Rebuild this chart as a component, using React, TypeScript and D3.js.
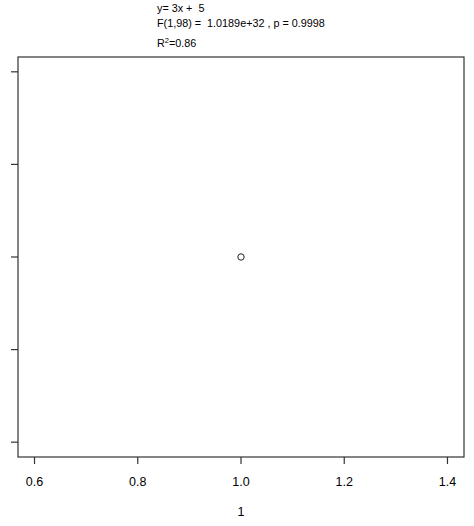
import React from "react";
import * as d3 from "d3";

const xs = [1];
const ys = [1];
const xTicks = [0.6, 0.8, 1.0, 1.2, 1.4];
const yTicks = [0.6, 0.8, 1.0, 1.2, 1.4];
const eqLines = ["y= 3x +  5", "F(1,98) =  1.0189e+32 , p = 0.9998"];
const r2Label = "0.86";
const xLabel = "1";

export default function App() {
  const W = 474, H = 526;
  const left = 18, right = 464, top = 57, bottom = 457;
  const x = d3.scaleLinear().domain([0.568, 1.432]).range([left, right]);
  const y = d3.scaleLinear().domain([0.568, 1.432]).range([bottom, top]);
  const font = "Liberation Sans, Arial, sans-serif";
  const axisColor = "#333";
  return (
    <svg width={W} height={H} style={{ position: "absolute", left: 0, top: 0, background: "#fff" }}>
      <g fontFamily={font} fill="#000" style={{ whiteSpace: "pre" }}>
        <text x={157} y={12} fontSize={10.8} xmlSpace="preserve">{eqLines[0]}</text>
        <text x={157} y={27} fontSize={10.8} xmlSpace="preserve">{eqLines[1]}</text>
        <text x={157} y={47} fontSize={10.8}>
          R<tspan dy={-4} fontSize={7.5}>2</tspan><tspan dy={4}>={r2Label}</tspan>
        </text>
      </g>
      <rect x={left} y={top} width={right - left} height={bottom - top} fill="none" stroke={axisColor} strokeWidth={1.2} />
      {xTicks.map((t) => (
        <g key={"x" + t}>
          <line x1={x(t)} x2={x(t)} y1={bottom} y2={bottom + 7} stroke={axisColor} strokeWidth={1.2} />
          <text x={x(t)} y={486} fontSize={12.5} fontFamily={font} textAnchor="middle" fill="#000">
            {d3.format(".1f")(t)}
          </text>
        </g>
      ))}
      {yTicks.map((t) => (
        <line key={"y" + t} x1={left - 7} x2={left} y1={y(t)} y2={y(t)} stroke={axisColor} strokeWidth={1.2} />
      ))}
      {xs.map((v, i) => (
        <circle key={i} cx={x(v)} cy={y(ys[i])} r={3.2} fill="none" stroke="#222" strokeWidth={1} />
      ))}
      <text x={x(1)} y={516} fontSize={12.5} fontFamily={font} textAnchor="middle" fill="#000">{xLabel}</text>
    </svg>
  );
}
